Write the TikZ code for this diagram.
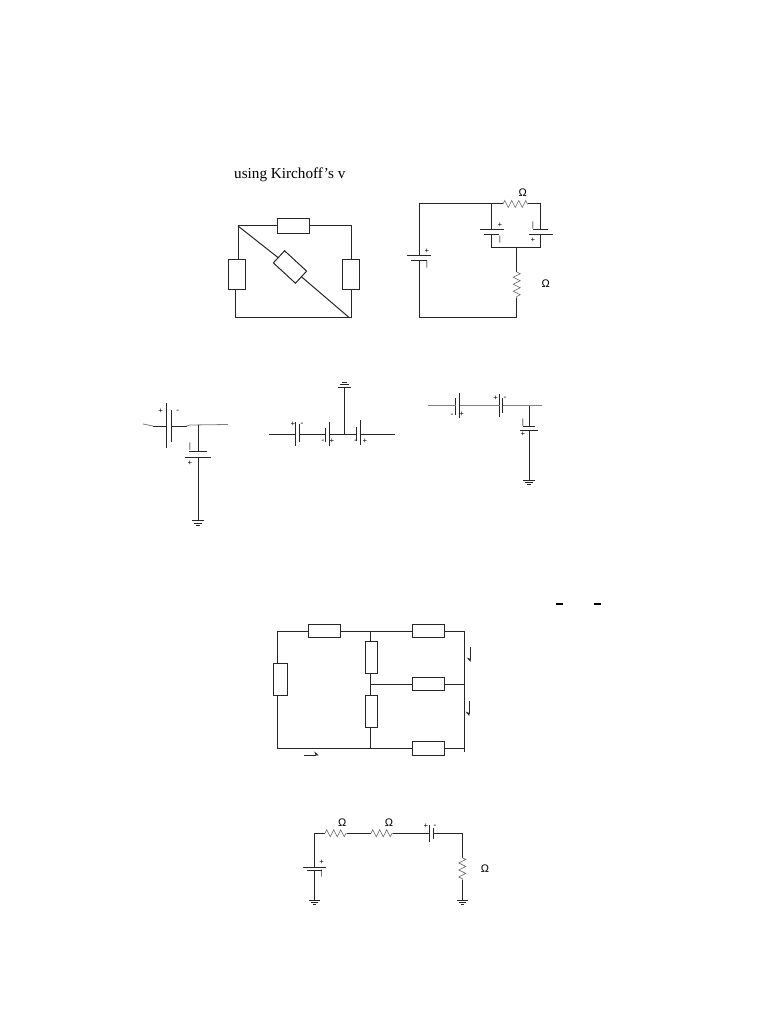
\documentclass[tikz,border=0pt]{standalone}
\usepackage{fontspec}
\setmainfont{Liberation Serif}
\newfontfamily\ohmfont{Liberation Sans}
\usetikzlibrary{arrows.meta,decorations.pathmorphing}
\tikzset{
	wire/.style={draw=black!85,line width=1pt},
	greywire/.style={draw=black!50,line width=0.8pt},
	zig/.style={draw=black!60,line width=0.6pt,decorate,decoration={zigzag,segment length=7pt,amplitude=3.5pt}},
	res/.style={draw=black!85,line width=1pt,rectangle,inner sep=0,outer sep=0,fill=white},
	vplate/.style={fill=black!85,rectangle,inner sep=0,outer sep=0,minimum width=1.1pt,minimum height=#1},
	hplate/.style={fill=black!85,rectangle,inner sep=0,outer sep=0,minimum height=1.1pt,minimum width=#1},
	sgn/.style={inner sep=0,font=\fontsize{8}{8}\selectfont\bfseries},
	ohm/.style={inner sep=0,font=\fontsize{11}{11}\selectfont\ohmfont},
	flow/.style={draw=black!85,line width=0.8pt,-{Stealth[length=4pt,width=7pt,harpoon]}},
	flowdown/.style={draw=black!85,line width=0.8pt,-{Stealth[length=4pt,width=7pt,harpoon,swap]}}
}
\begin{document}
\begin{tikzpicture}[x=1pt,y=-1pt]
	\useasboundingbox (0,0) rectangle (768,1024);
	\node[inner sep=0,anchor=base west,font=\fontsize{15.2}{15.2}\selectfont] (title) at (234,178.5) {using Kirchoff's v};

	\node[res,minimum width=32pt,minimum height=15pt] (r1) at (293,226) {};
	\node[res,minimum width=17pt,minimum height=30pt] (r2) at (236.5,274) {};
	\node[res,minimum width=17pt,minimum height=30pt] (r3) at (350.5,274) {};
	\node[res,minimum width=30pt,minimum height=16.5pt,rotate=-42.7] (r4) at (290,267) {};
	\coordinate (a1) at (238,226);
	\coordinate (a2) at (351.7,226);
	\coordinate (a3) at (351.7,317);
	\coordinate (a4) at (235,317);
	\coordinate (a5) at (238,259);
	\coordinate (a6) at (235,289);
	\coordinate (a7) at (351.7,259);
	\coordinate (a8) at (351.7,289);
	\coordinate (a9) at (348.5,317);
	\draw[wire] (a1) -- (r1) -- (a2) -- (a7);
	\draw[wire] (a8) -- (a3) -- (a4) -- (a6);
	\draw[wire] (a1) -- (a5);
	\draw[wire] (a1) -- (r4) -- (a9);

	\node[hplate=24pt] (p1) at (419,255.5) {};
	\node[hplate=16pt] (p2) at (419,260.5) {};
	\node[hplate=24pt] (p3) at (491.5,229.5) {};
	\node[hplate=15pt] (p4) at (491.5,234.5) {};
	\node[hplate=24pt] (p5) at (540.5,234.5) {};
	\node[hplate=15pt] (p6) at (540.5,229.5) {};
	\coordinate (b1) at (419,204);
	\coordinate (b2) at (491.5,204);
	\coordinate (b3) at (503,204);
	\coordinate (b4) at (528,204);
	\coordinate (b5) at (540.5,204);
	\coordinate (b6) at (491.5,247.7);
	\coordinate (b7) at (540.5,247.7);
	\coordinate (b8) at (516.7,247.7);
	\coordinate (b9) at (516.7,272);
	\coordinate (b10) at (516.7,298);
	\coordinate (b11) at (516.7,317.7);
	\coordinate (b12) at (419,317.7);
	\draw[wire] (p1) -- (b1) -- (b3);
	\draw[zig] (b3) -- (b4);
	\draw[wire] (b4) -- (b5) -- (p6);
	\draw[wire] (b2) -- (p3);
	\draw[wire] (p4) -- (b6) -- (b7) -- (p5);
	\draw[wire] (b8) -- (b9);
	\draw[zig] (b9) -- (b10);
	\draw[wire] (b10) -- (b11) -- (b12) -- (p2);
	\node[ohm] (o1) at (522.7,192.7) {Ω};
	\node[ohm] (o2) at (545.7,284) {Ω};
	\node[sgn] (s1) at (427,251) {+};
	\node[sgn] (s2) at (427,265) {|};
	\node[sgn] (s3) at (500,225.7) {+};
	\node[sgn] (s4) at (500,240) {|};
	\node[sgn] (s5) at (533,226) {|};
	\node[sgn] (s6) at (533,240) {+};

	\node[vplate=45pt] (p7) at (166.5,425.5) {};
	\node[vplate=32pt] (p8) at (171.5,426) {};
	\node[hplate=18pt] (p9) at (198,451.5) {};
	\node[hplate=26pt] (p10) at (198,457.5) {};
	\node[hplate=12pt] (g1) at (198,520.5) {};
	\node[hplate=8pt] (g2) at (198,523.5) {};
	\node[hplate=4pt] (g3) at (198,525.5) {};
	\coordinate (c1) at (143,424);
	\coordinate (c2) at (153,426);
	\coordinate (c3) at (186.7,426);
	\coordinate (c4) at (190,425);
	\coordinate (c5) at (228,424.5);
	\coordinate (c6) at (198,424.7);
	\draw[greywire] (c1) -- (c2);
	\draw[wire] (c2) -- (c2 -| p7);
	\draw[wire] (c3 -| p8) -- (c3);
	\draw[greywire] (c3) -- (c4) -- (c5);
	\draw[wire] (c6) -- (p9);
	\draw[wire] (p10) -- (g1);
	\node[sgn] (s7) at (160.7,411) {+};
	\node[sgn] (s8) at (177.7,411) {-};
	\node[sgn] (s9) at (190,447) {|};
	\node[sgn] (s10) at (190,463.7) {+};

	\node[vplate=24pt] (p11) at (295.5,433.7) {};
	\node[vplate=18pt] (p12) at (299.5,433) {};
	\node[vplate=24pt] (p13) at (329.5,433.5) {};
	\node[vplate=14pt] (p14) at (325.5,434.5) {};
	\node[vplate=25pt] (p15) at (360.5,432.5) {};
	\node[vplate=14pt] (p16) at (356.5,434) {};
	\node[hplate=13pt] (g4) at (344.7,387.5) {};
	\node[hplate=9pt] (g5) at (344.7,384.5) {};
	\node[hplate=5pt] (g6) at (344.7,382.5) {};
	\coordinate (d1) at (269,434);
	\coordinate (d2) at (395,434);
	\coordinate (d3) at (344.7,434);
	\draw[wire] (d1) -- (d1 -| p11);
	\draw[wire] (d1 -| p12) -- (d1 -| p14);
	\draw[wire] (d1 -| p13) -- (d1 -| p16);
	\draw[wire] (d1 -| p15) -- (d2);
	\draw[wire] (d3) -- (g4);
	\node[sgn] (s11) at (293,424) {+};
	\node[sgn] (s12) at (302,424) {-};
	\node[sgn] (s13) at (323,441) {-};
	\node[sgn] (s14) at (332,441) {+};
	\node[sgn] (s15) at (355.7,441) {-};
	\node[sgn] (s16) at (365,441) {+};

	\node[vplate=25pt] (p17) at (459.5,405.5) {};
	\node[vplate=17pt] (p18) at (455.5,406.5) {};
	\node[vplate=23pt] (p19) at (499.5,405.5) {};
	\node[vplate=15pt] (p20) at (502.5,405.5) {};
	\node[hplate=12pt] (p21) at (529.3,426.5) {};
	\node[hplate=18pt] (p22) at (529.3,430.5) {};
	\node[hplate=12pt] (g7) at (529.3,480.5) {};
	\node[hplate=8pt] (g8) at (529.3,482.5) {};
	\node[hplate=4pt] (g9) at (529.3,484.5) {};
	\coordinate (e1) at (428,405.7);
	\coordinate (e2) at (541.7,405.7);
	\coordinate (e3) at (529.3,405.7);
	\draw[greywire,line width=1.2pt] (e1) -- (e1 -| p18);
	\draw[greywire,line width=1.2pt] (e1 -| p17) -- (e1 -| p19);
	\draw[greywire,line width=1.2pt] (e1 -| p20) -- (e2);
	\draw[wire] (e3) -- (p21);
	\draw[wire] (p22) -- (g7);
	\node[sgn] (s17) at (452,415) {-};
	\node[sgn] (s18) at (461.7,414) {+};
	\node[sgn] (s19) at (495.7,398) {+};
	\node[sgn] (s20) at (505,398) {-};
	\node[sgn] (s21) at (523,422.7) {|};
	\node[sgn] (s22) at (523,434) {+};

	\node[res,minimum width=32pt,minimum height=13pt] (r5) at (324,631.3) {};
	\node[res,minimum width=32pt,minimum height=13pt] (r6) at (428.5,631.3) {};
	\node[res,minimum width=14.5pt,minimum height=32pt] (r7) at (280.5,679.5) {};
	\node[res,minimum width=12pt,minimum height=32pt] (r8) at (371,657.7) {};
	\node[res,minimum width=12pt,minimum height=32pt] (r9) at (371,711.5) {};
	\node[res,minimum width=32pt,minimum height=13.5pt] (r10) at (428.5,684) {};
	\node[res,minimum width=32pt,minimum height=13.5pt] (r11) at (428.5,748.3) {};
	\coordinate (f1) at (277.3,631.3);
	\coordinate (f2) at (370.7,631.3);
	\coordinate (f3) at (464.3,631.3);
	\coordinate (f4) at (277.3,748.3);
	\coordinate (f5) at (370.7,748.3);
	\coordinate (f6) at (464.3,748.3);
	\coordinate (f7) at (370.7,684);
	\coordinate (f8) at (464.3,684);
	\coordinate (f9) at (464.3,752);
	\coordinate (f10) at (277.3,663.3);
	\coordinate (f11) at (277.3,695.7);
	\coordinate (f12) at (370.7,641.7);
	\coordinate (f13) at (370.7,673.7);
	\coordinate (f14) at (370.7,695.3);
	\coordinate (f15) at (370.7,727.7);
	\draw[wire] (f10) -- (f1) -- (r5) -- (f2) -- (r6) -- (f3) -- (f9);
	\draw[wire] (f11) -- (f4) -- (f5) -- (r11) -- (f6);
	\draw[wire] (f2) -- (f12);
	\draw[wire] (f13) -- (f14);
	\draw[wire] (f15) -- (f5);
	\draw[wire] (f7) -- (r10) -- (f8);
	\coordinate (h1) at (470.3,647);
	\coordinate (h2) at (470.3,662);
	\coordinate (h3) at (469,701);
	\coordinate (h4) at (469,716);
	\coordinate (h5) at (304,755);
	\coordinate (h6) at (318.7,755);
	\draw[flowdown] (h1) -- (h2);
	\draw[flowdown] (h3) -- (h4);
	\draw[flow] (h5) -- (h6);
	\node[fill=black,inner sep=0,minimum width=7pt,minimum height=1.8pt] (m1) at (559.7,603.7) {};
	\node[fill=black,inner sep=0,minimum width=7pt,minimum height=1.8pt] (m2) at (597.3,603.7) {};

	\node[hplate=23pt] (p23) at (314.3,867.5) {};
	\node[hplate=15pt] (p24) at (314.3,870.5) {};
	\node[vplate=17pt] (p25) at (429.5,833.3) {};
	\node[vplate=11pt] (p26) at (433.5,833.3) {};
	\node[hplate=11pt] (g10) at (314.3,900.5) {};
	\node[hplate=7pt] (g11) at (314.3,902.5) {};
	\node[hplate=3pt] (g12) at (314.3,904.5) {};
	\node[hplate=11pt] (g13) at (462.3,900.5) {};
	\node[hplate=7pt] (g14) at (462.3,902.5) {};
	\node[hplate=3pt] (g15) at (462.3,904.5) {};
	\coordinate (k1) at (314.3,833.3);
	\coordinate (k2) at (325,833.3);
	\coordinate (k3) at (346.7,833.3);
	\coordinate (k4) at (371,833.3);
	\coordinate (k5) at (393,833.3);
	\coordinate (k6) at (462.3,833.3);
	\coordinate (k7) at (462.3,857.7);
	\coordinate (k8) at (462.3,880);
	\draw[wire] (p23) -- (k1) -- (k2);
	\draw[zig] (k2) -- (k3);
	\draw[wire] (k3) -- (k4);
	\draw[zig] (k4) -- (k5);
	\draw[wire] (k5) -- (p25);
	\draw[wire] (p26) -- (k6) -- (k7);
	\draw[zig] (k7) -- (k8);
	\draw[wire] (k8) -- (g13);
	\draw[wire] (p24) -- (g10);
	\node[ohm] (o3) at (342.3,822.7) {Ω};
	\node[ohm] (o4) at (389,822.7) {Ω};
	\node[ohm] (o5) at (485,869) {Ω};
	\node[sgn] (s23) at (321.7,862.3) {+};
	\node[sgn] (s24) at (321.7,874) {|};
	\node[sgn] (s25) at (426,826.7) {+};
	\node[sgn] (s26) at (435,826.7) {-};
\end{tikzpicture}
\end{document}
